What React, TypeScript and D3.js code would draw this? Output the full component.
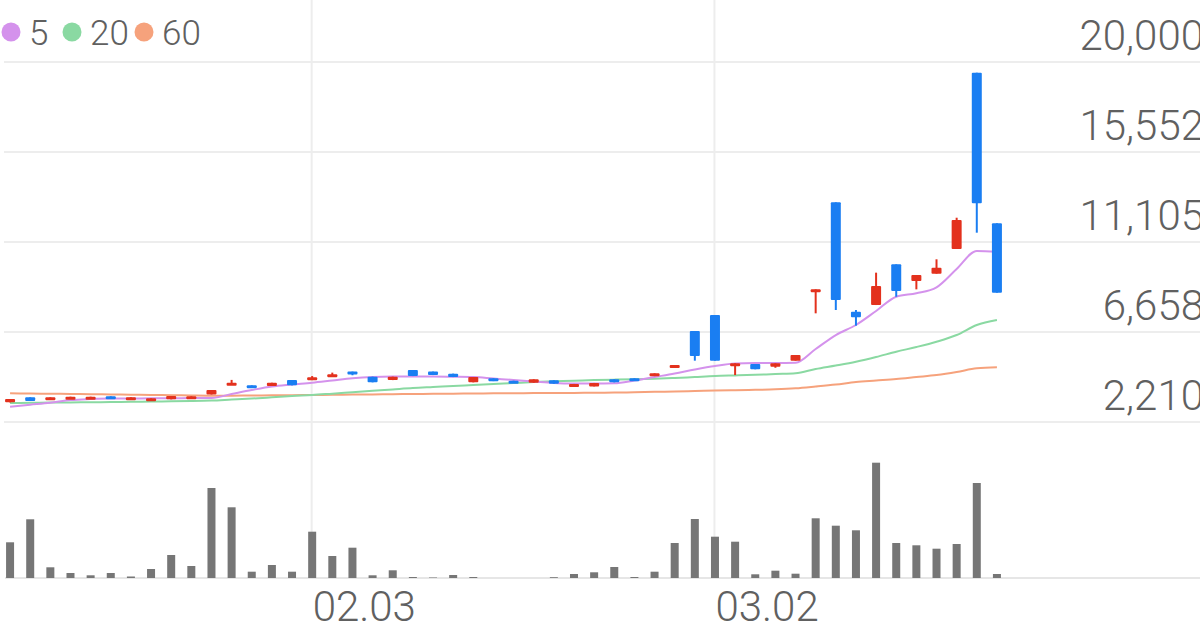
import React from "react";
import * as d3 from "d3";

// ---- data ----
const opens = [3180, 3430, 3330, 3360, 3360, 3480, 3330, 3250, 3330, 3370, 3570, 4040, 4020, 3990, 4280, 4280, 4450, 4700, 4450, 4280, 4780, 4700, 4600, 4170, 4370, 4250, 4150, 4270, 3990, 3970, 4320, 4370, 4480, 4890, 6705, 7495, 4975, 5075, 4940, 5240, 8650, 13065, 7660, 7990, 10000, 9175, 9540, 10760, 19470, 12030];
const closes = [3345, 3250, 3430, 3460, 3460, 3380, 3430, 3380, 3490, 3480, 3790, 4150, 3940, 4150, 4020, 4420, 4570, 4580, 4170, 4450, 4480, 4530, 4430, 4430, 4230, 4150, 4320, 4100, 4090, 4140, 4170, 4270, 4615, 5025, 5470, 5240, 5110, 4815, 5110, 5520, 8765, 8240, 7385, 8930, 8685, 9475, 9835, 12190, 13015, 8600];
const highs = [3345, 3430, 3430, 3460, 3460, 3480, 3430, 3380, 3490, 3480, 3790, 4290, 4020, 4150, 4280, 4480, 4650, 4700, 4450, 4450, 4780, 4700, 4600, 4430, 4370, 4250, 4320, 4270, 4090, 4140, 4320, 4370, 4615, 5025, 6705, 7495, 5110, 5075, 5110, 5520, 8765, 13065, 7745, 9590, 10000, 9475, 10250, 12305, 19470, 12030];
const lows = [3180, 3250, 3330, 3360, 3360, 3380, 3330, 3250, 3330, 3370, 3570, 4040, 3940, 3990, 4020, 4280, 4450, 4520, 4170, 4280, 4480, 4530, 4430, 4170, 4230, 4150, 4150, 4100, 3990, 3970, 4170, 4270, 4480, 4890, 5240, 5240, 4530, 4815, 4890, 5240, 7580, 7745, 6970, 7990, 8400, 8765, 9540, 10760, 11565, 8600];
const volumes = [357, 587, 107, 50, 27, 50, 15, 90, 230, 120, 900, 707, 63, 130, 63, 463, 220, 303, 27, 77, 10, 5, 30, 10, 0, 0, 0, 8, 40, 57, 110, 10, 63, 350, 590, 413, 363, 37, 73, 43, 597, 523, 477, 1153, 350, 327, 293, 340, 950, 40];
const ma5 = [2965, 3064, 3163, 3296, 3346, 3370, 3370, 3380, 3380, 3395, 3395, 3593, 3790, 3963, 4062, 4151, 4260, 4368, 4433, 4457, 4457, 4457, 4447, 4433, 4358, 4284, 4210, 4136, 4111, 4111, 4121, 4260, 4433, 4606, 4803, 4976, 5100, 5124, 5124, 5139, 5816, 6508, 7003, 7694, 8401, 8569, 8866, 9770, 10660, 10625];
const ma20 = [3148, 3158, 3168, 3177, 3187, 3197, 3207, 3217, 3232, 3246, 3271, 3321, 3370, 3430, 3494, 3543, 3612, 3681, 3751, 3820, 3889, 3939, 3988, 4037, 4087, 4136, 4186, 4220, 4250, 4284, 4304, 4319, 4344, 4384, 4433, 4482, 4512, 4541, 4581, 4615, 4828, 5001, 5189, 5421, 5683, 5915, 6177, 6508, 7003, 7250];
const ma60 = [3627, 3617, 3607, 3593, 3583, 3573, 3558, 3548, 3538, 3523, 3513, 3513, 3518, 3528, 3533, 3543, 3553, 3563, 3573, 3583, 3593, 3603, 3612, 3617, 3627, 3632, 3637, 3642, 3647, 3657, 3662, 3681, 3701, 3721, 3741, 3766, 3780, 3800, 3825, 3874, 3963, 4062, 4186, 4260, 4334, 4433, 4532, 4680, 4863, 4912];
const yTicks = [20000, 15552, 11105, 6658, 2210];
const xTickIndex = [15, 35];
const xTickLabels = ["02.03", "03.02"];
const legendLabels = ["5", "20", "60"];
const legendColors = ["#d492ec", "#8ad9a2", "#f6a27c"];

const UP = "#e3311d";
const DOWN = "#1a7ef2";
const GRID = "#ededed";
const TEXT = "#606060";
const FONT = "Roboto, 'Noto Sans', sans-serif";

export default function App() {
  const W = 1200;
  const H = 630;
  const slots = 60;
  const x = d3.scaleBand<number>().domain(d3.range(slots)).range([0, 1208.4]).padding(0);
  const cx = (i: number) => (x(i) as number) + x.bandwidth() / 2;
  const y = d3.scaleLinear().domain([2210, 20000]).range([422, 62]);
  const yVol = d3.scaleLinear().domain([0, d3.max(volumes) as number]).range([578, 462.7]);

  const idx = d3.range(closes.length);
  const line = (vals: number[]) =>
    d3.line<number>().x((i) => cx(i)).y((i) => y(vals[i])).curve(d3.curveMonotoneX)(idx) as string;

  const bodyW = 10;
  const volW = 8;

  return (
    <svg width={W} height={H} style={{ position: "absolute", left: 0, top: 0, background: "#fff" }} fontFamily={FONT}>
      {/* vertical grid */}
      {xTickIndex.map((t) => (
        <line key={"vg" + t} x1={cx(t) - 0.5} x2={cx(t) - 0.5} y1={0} y2={578} stroke={GRID} strokeWidth={2} />
      ))}
      {/* horizontal grid */}
      {yTicks.map((t) => (
        <line key={"hg" + t} x1={4} x2={W} y1={y(t)} y2={y(t)} stroke={GRID} strokeWidth={2} />
      ))}
      <line x1={5} x2={W} y1={578} y2={578} stroke="#e6e6e6" strokeWidth={2} />

      {/* y labels */}
      {yTicks.map((t) => (
        <text key={"yl" + t} x={1204} y={y(t) - 12} textAnchor="end" fontSize={42} fill={TEXT} fontWeight={300}>
          {d3.format(",")(t)}
        </text>
      ))}

      {/* x labels */}
      {xTickIndex.map((t, k) => (
        <text key={"xl" + t} x={cx(t) + 0.5} y={621} fontSize={42} fill={TEXT} fontWeight={300}>
          {xTickLabels[k]}
        </text>
      ))}

      {/* volume */}
      {volumes.map((v, i) => (
        <rect key={"v" + i} x={cx(i) - volW / 2} y={yVol(v)} width={volW} height={Math.max(0, 578 - yVol(v))} fill="#767676" />
      ))}

      {/* MA lines */}
      <path d={line(ma60)} fill="none" stroke={legendColors[2]} strokeWidth={2} />
      <path d={line(ma20)} fill="none" stroke={legendColors[1]} strokeWidth={2} />
      <path d={line(ma5)} fill="none" stroke={legendColors[0]} strokeWidth={2} />

      {/* candles */}
      {idx.map((i) => {
        const o = opens[i];
        const c = closes[i];
        const col = c >= o ? UP : DOWN;
        const top = y(Math.max(o, c));
        const bot = y(Math.min(o, c));
        const h = Math.max(3, bot - top);
        return (
          <g key={"c" + i}>
            <line x1={cx(i)} x2={cx(i)} y1={y(highs[i])} y2={y(lows[i])} stroke={col} strokeWidth={2} />
            <rect x={cx(i) - bodyW / 2} y={top} width={bodyW} height={h} fill={col} rx={1} />
          </g>
        );
      })}

      {/* legend */}
      {legendLabels.map((l, k) => {
        const offs = [11, 72, 144];
        return (
          <g key={"lg" + k}>
            <circle cx={offs[k]} cy={32} r={9.5} fill={legendColors[k]} />
            <text x={offs[k] + 18} y={44.5} fontSize={35} fill={TEXT} fontWeight={300}>
              {l}
            </text>
          </g>
        );
      })}
    </svg>
  );
}
